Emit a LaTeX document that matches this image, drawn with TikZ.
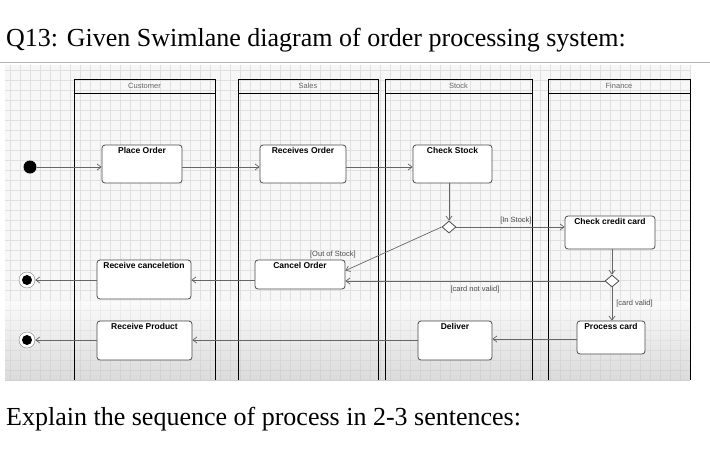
\documentclass[tikz,border=0pt]{standalone}
\usepackage{fontspec}
\setmainfont{Liberation Serif}
\newfontfamily\ssf{Liberation Sans}
\usetikzlibrary{arrows.meta,shapes.geometric}
\begin{document}
\begin{tikzpicture}[x=1pt,y=-1pt,
  act/.style={draw=black!70,line width=0.8pt,rounded corners=3pt,fill=white,inner sep=0pt},
  atxt/.style={anchor=north,font=\ssf\bfseries\fontsize{8.5}{9}\selectfont,inner sep=3pt},
  dia/.style={diamond,draw=black!70,line width=0.8pt,fill=white,minimum width=14pt,minimum height=12pt,inner sep=0pt},
  flow/.style={draw=black!60,line width=0.7pt,-{Straight Barb[length=4pt,width=6pt]}},
  guard/.style={font=\ssf\fontsize{7.5}{8}\selectfont,text=black!70,inner sep=1pt},
  lane/.style={draw=black,line width=1pt},
  hdr/.style={font=\ssf\fontsize{7.5}{8}\selectfont,text=black!60}]
\useasboundingbox (0,0) rectangle (710,467);
\fill[white] (0,0) rectangle (710,467);
% title
\node[anchor=base west,font=\fontsize{26}{30}\selectfont,inner sep=0pt] (title) at (6,46) {Q13: Given Swimlane diagram of order processing system:};
\draw[black!30,line width=1pt] (0,62) -- (710,62);
% background
\fill[black!3] (5,65) rectangle (690,380);
\foreach \x in {10,20,...,690} \draw[black!12,line width=0.3pt] (\x,65) -- (\x,380);
\foreach \y in {70,80,...,380} \draw[black!12,line width=0.3pt] (5,\y) -- (690,\y);
\shade[top color=white,bottom color=black!25,opacity=0.5] (5,300) rectangle (690,380);
% lanes
\foreach \a/\b/\n in {74/215/Customer,238/378/Sales,385/532/Stock,548/690/Finance}{
  \draw[lane] (\a,380) -- (\a,79) -- (\b,79) -- (\b,380);
  \draw[lane] (\a,93) -- (\b,93);
  \node[hdr] at ({(\a+\b)/2},86) {\n};
}
% nodes
\node[act,minimum width=80pt,minimum height=38pt] (po) at (142,164) {};
\node[atxt] at (po.north) {Place Order};
\node[act,minimum width=86pt,minimum height=38pt] (ro) at (303,164) {};
\node[atxt] at (ro.north) {Receives Order};
\node[act,minimum width=79pt,minimum height=38pt] (cs) at (452.5,164) {};
\node[atxt] at (cs.north) {Check Stock};
\node[dia] (d1) at (449,227) {};
\node[act,minimum width=90pt,minimum height=33pt] (cc) at (610,232.5) {};
\node[atxt] at (cc.north) {Check credit card};
\node[dia] (d2) at (612,281) {};
\node[act,minimum width=68pt,minimum height=33pt] (pc) at (611,337.5) {};
\node[atxt] at (pc.north) {Process card};
\node[act,minimum width=74pt,minimum height=39pt] (dl) at (455,340.5) {};
\node[atxt] at (dl.north) {Deliver};
\node[act,minimum width=90pt,minimum height=29pt] (co) at (300,274.5) {};
\node[atxt] at (co.north) {Cancel Order};
\node[act,minimum width=94pt,minimum height=39pt] (rc) at (144,279.5) {};
\node[atxt] at (rc.north) {Receive canceletion};
\node[act,minimum width=95pt,minimum height=39pt] (rp) at (144.5,340.5) {};
\node[atxt] at (rp.north) {Receive Product};
% start / end
\node[circle,fill=black,minimum size=13pt,inner sep=0pt] (st) at (30,167) {};
\node[circle,draw=black!50,fill=white,minimum size=16pt,inner sep=0pt] (e1) at (27,280) {};
\node[circle,fill=black,minimum size=10pt,inner sep=0pt] at (e1) {};
\node[circle,draw=black!50,fill=white,minimum size=16pt,inner sep=0pt] (e2) at (27,340) {};
\node[circle,fill=black,minimum size=10pt,inner sep=0pt] at (e2) {};
% flows
\draw[flow] (st) -- (po.west |- st);
\draw[flow] (po.east |- st) -- (ro.west |- st);
\draw[flow] (ro.east |- st) -- (cs.west |- st);
\draw[flow] (cs.south -| d1) -- (d1.north);
\draw[flow] (d1.east) -- (cc.west |- d1) node[guard,pos=0.55,above=2pt] {[In Stock]};
\draw[flow] (d1.west) -- ([yshift=-11pt]co.north east) node[guard,pos=0.88,above=6pt,anchor=south east] {[Out of Stock]};
\draw[flow] (cc.south -| d2) -- (d2.north);
\draw[flow] (d2.west) -- (co.east |- d2) node[guard,pos=0.5,below=4pt] {[card not valid]};
\draw[flow] (d2.south) -- (pc.north -| d2) node[guard,midway,right=3pt] {[card valid]};
\draw[flow] (pc.west |- 0,339) -- (dl.east |- 0,339);
\draw[flow] (dl.west |- 0,340) -- (rp.east |- 0,340);
\draw[flow] (co.west |- e1) -- (rc.east |- e1);
\draw[flow] (rc.west |- e1) -- (e1.east);
\draw[flow] (rp.west |- e2) -- (e2.east);
% bottom text
\node[anchor=base west,font=\fontsize{26}{30}\selectfont,inner sep=0pt] (q) at (6,425) {Explain the sequence of process in 2-3 sentences:};
\end{tikzpicture}
\end{document}
